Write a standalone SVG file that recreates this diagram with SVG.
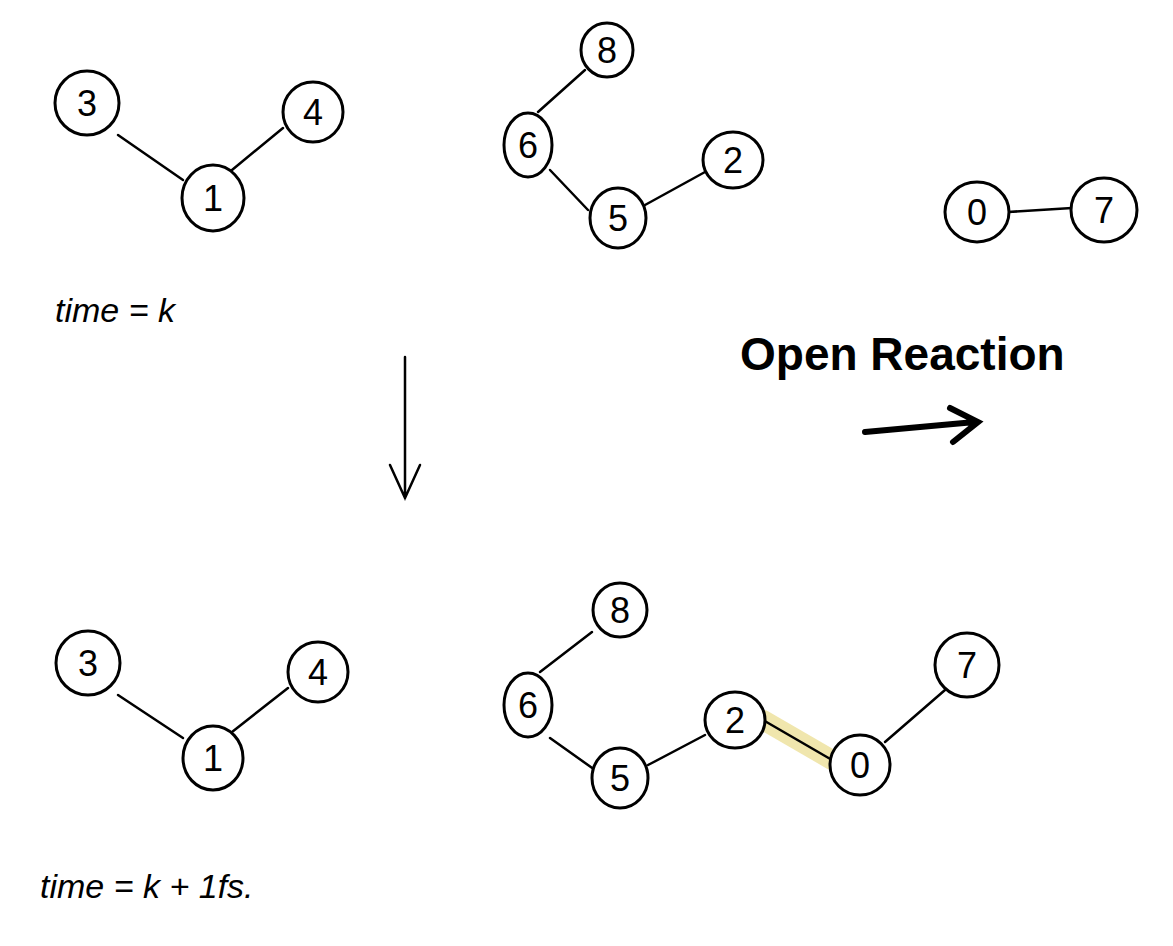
<svg xmlns="http://www.w3.org/2000/svg" width="1173" height="946" viewBox="0 0 1173 946">
<style>
.n ellipse{fill:#fff;stroke:#000;stroke-width:3}
.n text{font-family:"Liberation Sans",sans-serif;font-size:36px;text-anchor:middle;dominant-baseline:central}
.e line,.e path{stroke:#000;stroke-width:2.5;fill:none;stroke-linecap:round}
.lbl{font-family:"Liberation Sans",sans-serif;font-size:34px;font-style:italic}
</style>
<rect width="1173" height="946" fill="#fff"/>
<g class="e">
<line x1="118" y1="135" x2="183" y2="180"/>
<line x1="283" y1="128" x2="232" y2="170"/>
<line x1="585" y1="70" x2="538" y2="112"/>
<line x1="550" y1="170" x2="588" y2="210"/>
<line x1="645" y1="205" x2="705" y2="172"/>
<line x1="1008" y1="212" x2="1072" y2="208"/>
<line x1="118" y1="695" x2="183" y2="738"/>
<line x1="288" y1="688" x2="232" y2="732"/>
<line x1="592" y1="632" x2="540" y2="672"/>
<line x1="550" y1="738" x2="595" y2="770"/>
<line x1="648" y1="765" x2="705" y2="735"/>
<line x1="763" y1="720" x2="832" y2="760" style="stroke:#e9dc8a;stroke-width:20;stroke-opacity:.7"/>
<line x1="763" y1="720" x2="832" y2="760"/>
<line x1="885" y1="742" x2="945" y2="690"/>
<path d="M405 357 L405 498 M390 465 L405 498 L420 465"/>
<path d="M865 432 L975 422 M950 408 L978 422 L953 442" style="stroke-width:6"/>
</g>
<g id="n3" class="n"><ellipse cx="87" cy="103" rx="32" ry="32"/><text x="87" y="103">3</text></g>
<g id="n4" class="n"><ellipse cx="313" cy="112" rx="30" ry="30"/><text x="313" y="112">4</text></g>
<g id="n1" class="n"><ellipse cx="213" cy="198" rx="31" ry="33"/><text x="213" y="198">1</text></g>
<g id="n8" class="n"><ellipse cx="607" cy="50" rx="26" ry="27"/><text x="607" y="50">8</text></g>
<g id="n6" class="n"><ellipse cx="528" cy="145" rx="24" ry="32"/><text x="528" y="145">6</text></g>
<g id="n2" class="n"><ellipse cx="733" cy="160" rx="30" ry="28"/><text x="733" y="160">2</text></g>
<g id="n5" class="n"><ellipse cx="618" cy="218" rx="28" ry="30"/><text x="618" y="218">5</text></g>
<g id="n0" class="n"><ellipse cx="977" cy="212" rx="32" ry="30"/><text x="977" y="212">0</text></g>
<g id="n7" class="n"><ellipse cx="1104" cy="210" rx="33" ry="32"/><text x="1104" y="210">7</text></g>
<g id="b3" class="n"><ellipse cx="88" cy="663" rx="32" ry="32"/><text x="88" y="663">3</text></g>
<g id="b4" class="n"><ellipse cx="318" cy="672" rx="30" ry="30"/><text x="318" y="672">4</text></g>
<g id="b1" class="n"><ellipse cx="213" cy="758" rx="30" ry="32"/><text x="213" y="758">1</text></g>
<g id="b8" class="n"><ellipse cx="620" cy="610" rx="27" ry="27"/><text x="620" y="610">8</text></g>
<g id="b6" class="n"><ellipse cx="528" cy="705" rx="24" ry="32"/><text x="528" y="705">6</text></g>
<g id="b5" class="n"><ellipse cx="620" cy="778" rx="28" ry="30"/><text x="620" y="778">5</text></g>
<g id="b2" class="n"><ellipse cx="735" cy="720" rx="30" ry="28"/><text x="735" y="720">2</text></g>
<g id="b0" class="n"><ellipse cx="860" cy="765" rx="30" ry="30"/><text x="860" y="765">0</text></g>
<g id="b7" class="n"><ellipse cx="967" cy="665" rx="32" ry="32"/><text x="967" y="665">7</text></g>
<text class="lbl" x="55" y="322">time = k</text>
<text class="lbl" x="40" y="898">time = k + 1fs.</text>
<text x="740" y="370" style="font-family:'Liberation Sans',sans-serif;font-size:46px;font-weight:bold">Open Reaction</text>
</svg>
